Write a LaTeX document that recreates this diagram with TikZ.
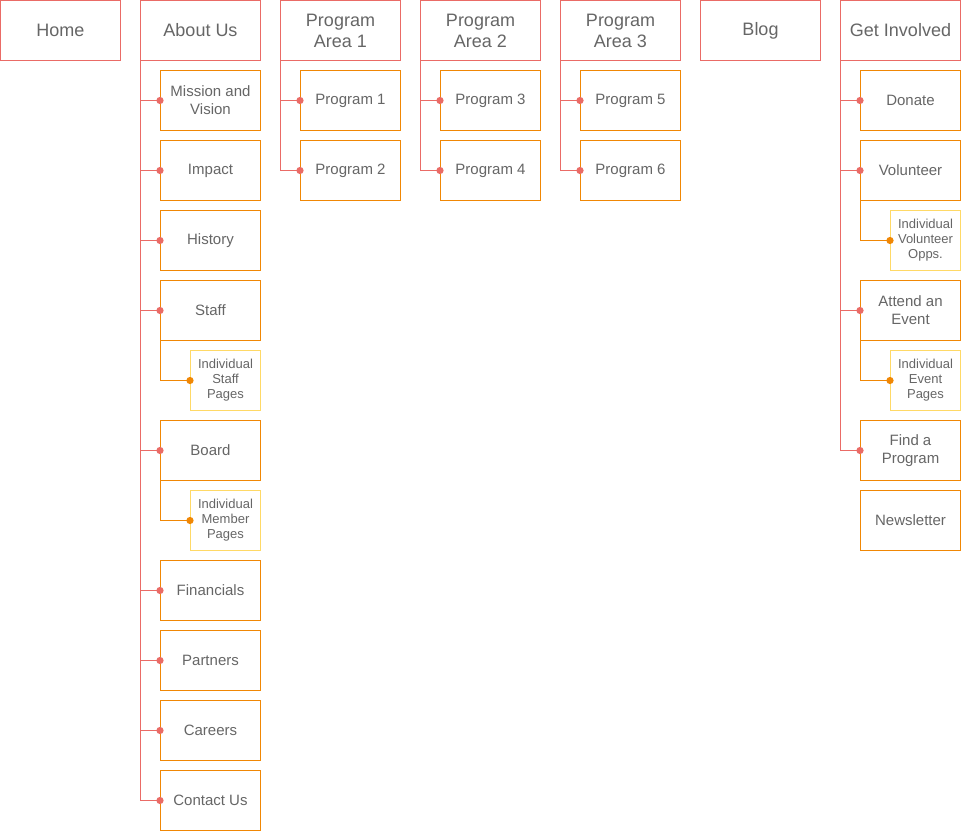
\documentclass[tikz,border=0pt]{standalone}
\usepackage{fontspec}
\setmainfont{Liberation Sans}
\definecolor{redc}{HTML}{EA6B66}
\definecolor{orangec}{HTML}{F08705}
\definecolor{yellowc}{HTML}{FFD966}
\definecolor{txtc}{HTML}{666666}
\tikzset{
  topbox/.style={draw=redc, fill=white, line width=1pt, minimum width=120pt, minimum height=60pt,
    inner sep=0pt, align=center, text=txtc, font=\fontsize{18}{21}\selectfont},
  subbox/.style={draw=orangec, fill=white, line width=1pt, minimum width=100pt, minimum height=60pt,
    inner sep=0pt, align=center, text=txtc, font=\fontsize{15}{18}\selectfont},
  leafbox/.style={draw=yellowc, fill=white, line width=1pt, minimum width=70pt, minimum height=60pt,
    inner sep=0pt, align=center, text=txtc, font=\fontsize{13}{15}\selectfont},
  redlink/.style={draw=redc, line width=1pt},
  orangelink/.style={draw=orangec, line width=1pt},
}
\begin{document}
\begin{tikzpicture}[x=1pt,y=-1pt]
\useasboundingbox (-0.5,-0.5) rectangle (960.5,830.5);
% top level
\node[topbox] (home) at (60,30) {Home};
\node[topbox] (about) at (200,30) {About Us};
\node[topbox] (pa1) at (340,30) {Program\\Area 1};
\node[topbox] (pa2) at (480,30) {Program\\Area 2};
\node[topbox] (pa3) at (620,30) {Program\\Area 3};
\node[topbox] (blog) at (760,30) {Blog};
\node[topbox] (get) at (900,30) {Get Involved};
% about us children
\node[subbox] (mission) at (210,100) {Mission and\\Vision};
\node[subbox] (impact) at (210,170) {Impact};
\node[subbox] (history) at (210,240) {History};
\node[subbox] (staff) at (210,310) {Staff};
\node[leafbox] (istaff) at (225,380) {Individual\\Staff\\Pages};
\node[subbox] (board) at (210,450) {Board};
\node[leafbox] (imember) at (225,520) {Individual\\Member\\Pages};
\node[subbox] (financials) at (210,590) {Financials};
\node[subbox] (partners) at (210,660) {Partners};
\node[subbox] (careers) at (210,730) {Careers};
\node[subbox] (contact) at (210,800) {Contact Us};
% programs
\node[subbox] (p1) at (350,100) {Program 1};
\node[subbox] (p2) at (350,170) {Program 2};
\node[subbox] (p3) at (490,100) {Program 3};
\node[subbox] (p4) at (490,170) {Program 4};
\node[subbox] (p5) at (630,100) {Program 5};
\node[subbox] (p6) at (630,170) {Program 6};
% get involved
\node[subbox] (donate) at (910,100) {Donate};
\node[subbox] (volunteer) at (910,170) {Volunteer};
\node[leafbox] (ivol) at (925,240) {Individual\\Volunteer\\Opps.};
\node[subbox] (attend) at (910,310) {Attend an\\Event};
\node[leafbox] (ievent) at (925,380) {Individual\\Event\\Pages};
\node[subbox] (find) at (910,450) {Find a\\Program};
\node[subbox] (newsletter) at (910,520) {Newsletter};
% connectors
\foreach \c in {mission,impact,history,staff,board,financials,partners,careers,contact}{
  \draw[redlink] (about.south west) |- (\c.west);
  \fill[redc] (\c.west) circle (3.6);}
\draw[orangelink] (staff.south west) |- (istaff.west);
\fill[orangec] (istaff.west) circle (3.6);
\draw[orangelink] (board.south west) |- (imember.west);
\fill[orangec] (imember.west) circle (3.6);
\foreach \c in {p1,p2}{\draw[redlink] (pa1.south west) |- (\c.west); \fill[redc] (\c.west) circle (3.6);}
\foreach \c in {p3,p4}{\draw[redlink] (pa2.south west) |- (\c.west); \fill[redc] (\c.west) circle (3.6);}
\foreach \c in {p5,p6}{\draw[redlink] (pa3.south west) |- (\c.west); \fill[redc] (\c.west) circle (3.6);}
\foreach \c in {donate,volunteer,attend,find}{
  \draw[redlink] (get.south west) |- (\c.west);
  \fill[redc] (\c.west) circle (3.6);}
\draw[orangelink] (volunteer.south west) |- (ivol.west);
\fill[orangec] (ivol.west) circle (3.6);
\draw[orangelink] (attend.south west) |- (ievent.west);
\fill[orangec] (ievent.west) circle (3.6);
\end{tikzpicture}
\end{document}
